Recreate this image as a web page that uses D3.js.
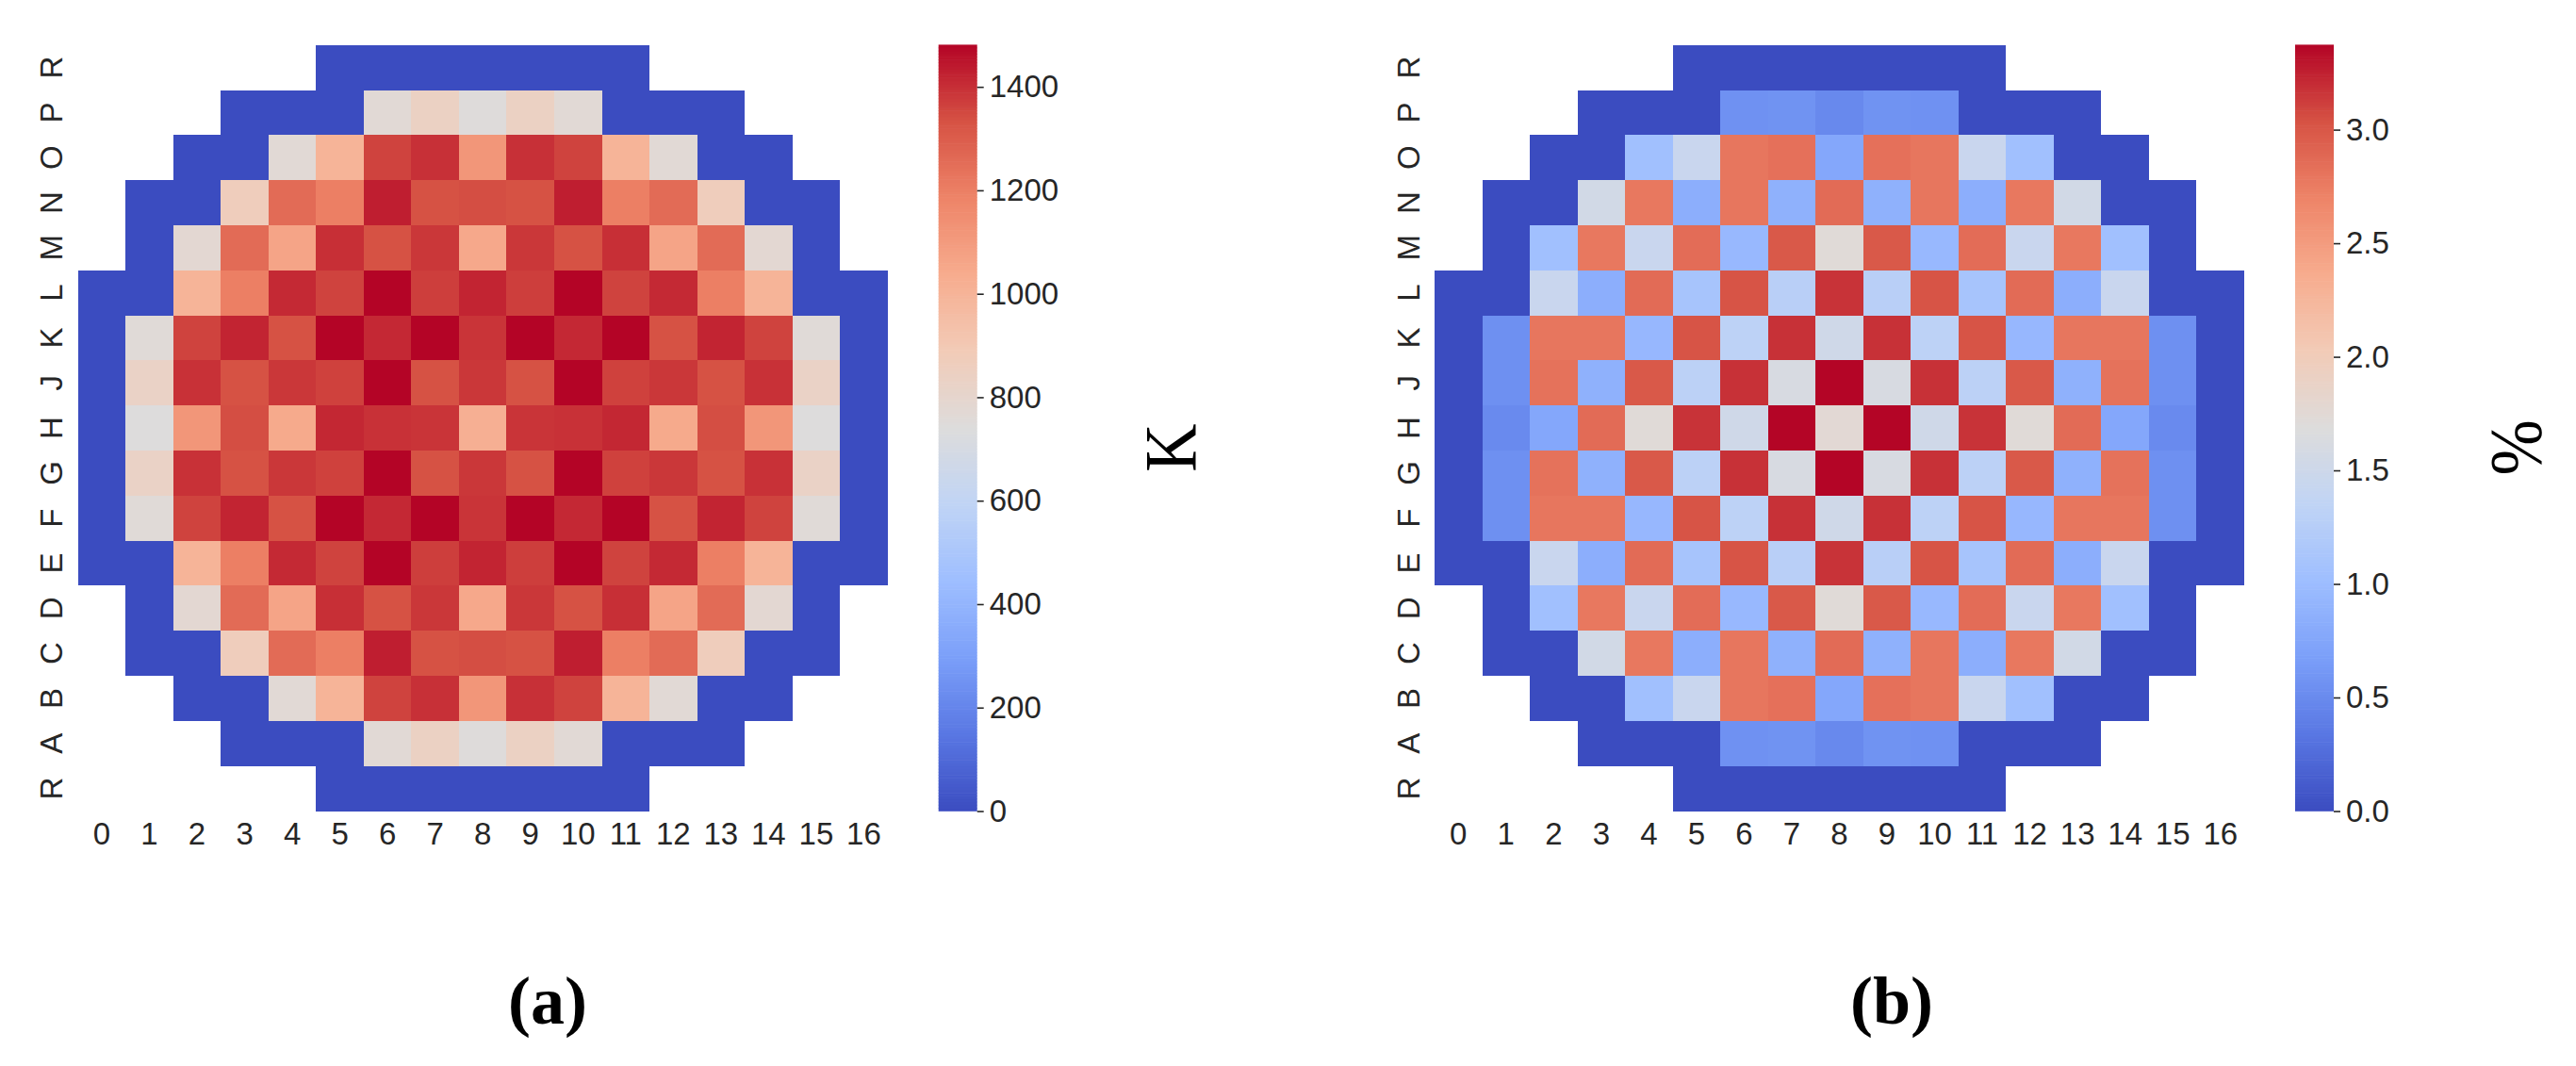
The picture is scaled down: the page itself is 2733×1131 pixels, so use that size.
<!DOCTYPE html>
<html><head><meta charset="utf-8">
<script src="https://cdnjs.cloudflare.com/ajax/libs/d3/7.8.5/d3.min.js"></script>
<style>html,body{margin:0;padding:0;background:#fff}svg{display:block}</style></head>
<body><svg id="c" width="2733" height="1131"></svg>
<script>
const rowLabels=["R","P","O","N","M","L","K","J","H","G","F","E","D","C","B","A","R"];
const colLabels=["0","1","2","3","4","5","6","7","8","9","10","11","12","13","14","15","16"];
const _=null;
const tempGrid=[
[_,_,_,_,_,0,0,0,0,0,0,0,_,_,_,_,_],
[_,_,_,0,0,0,770,840,750,840,770,0,0,0,_,_,_],
[_,_,0,0,770,1000,1362,1398,1120,1398,1362,1000,770,0,0,_,_],
[_,0,0,870,1260,1200,1432,1332,1340,1332,1432,1200,1260,870,0,0,_],
[_,0,780,1260,1065,1400,1332,1385,1050,1385,1332,1400,1065,1260,780,0,_],
[0,0,1000,1200,1410,1362,1481,1370,1420,1370,1481,1362,1410,1200,1000,0,0],
[0,760,1362,1420,1332,1481,1413,1481,1390,1481,1413,1481,1332,1420,1362,760,0],
[0,830,1395,1332,1385,1365,1481,1332,1385,1332,1481,1365,1385,1332,1395,830,0],
[0,740,1120,1340,1045,1415,1395,1390,1020,1390,1395,1415,1045,1340,1120,740,0],
[0,830,1395,1332,1385,1365,1481,1332,1385,1332,1481,1365,1385,1332,1395,830,0],
[0,760,1362,1420,1332,1481,1413,1481,1390,1481,1413,1481,1332,1420,1362,760,0],
[0,0,1000,1200,1410,1362,1481,1370,1420,1370,1481,1362,1410,1200,1000,0,0],
[_,0,780,1260,1065,1400,1332,1385,1050,1385,1332,1400,1065,1260,780,0,_],
[_,0,0,870,1260,1200,1432,1332,1340,1332,1432,1200,1260,870,0,0,_],
[_,_,0,0,770,1000,1362,1398,1120,1398,1362,1000,770,0,0,_,_],
[_,_,_,0,0,0,770,840,750,840,770,0,0,0,_,_,_],
[_,_,_,_,_,0,0,0,0,0,0,0,_,_,_,_,_]];
const pctGrid=[
[_,_,_,_,_,0,0,0,0,0,0,0,_,_,_,_,_],
[_,_,_,0,0,0,.56,.57,.49,.57,.56,0,0,0,_,_,_],
[_,_,0,0,1.04,1.45,2.79,2.83,.76,2.83,2.79,1.45,1.04,0,0,_,_],
[_,0,0,1.55,2.78,.84,2.79,.87,2.87,.87,2.79,.84,2.78,1.55,0,0,_],
[_,0,1.04,2.78,1.45,2.86,.95,2.99,1.73,2.99,.95,2.86,1.45,2.78,1.04,0,_],
[0,0,1.45,.84,2.87,1.1,3.02,1.28,3.17,1.28,3.02,1.1,2.87,.84,1.45,0,0],
[0,.55,2.79,2.79,.94,3.02,1.32,3.18,1.52,3.18,1.32,3.02,.94,2.79,2.79,.55,0],
[0,.55,2.82,.87,2.99,1.31,3.18,1.62,3.37,1.62,3.18,1.31,2.99,.87,2.82,.55,0],
[0,.5,.76,2.87,1.73,3.17,1.52,3.37,1.76,3.37,1.52,3.17,1.73,2.87,.76,.5,0],
[0,.55,2.82,.87,2.99,1.31,3.18,1.62,3.37,1.62,3.18,1.31,2.99,.87,2.82,.55,0],
[0,.55,2.79,2.79,.94,3.02,1.32,3.18,1.52,3.18,1.32,3.02,.94,2.79,2.79,.55,0],
[0,0,1.45,.84,2.87,1.1,3.02,1.28,3.17,1.28,3.02,1.1,2.87,.84,1.45,0,0],
[_,0,1.04,2.78,1.45,2.86,.95,2.99,1.73,2.99,.95,2.86,1.45,2.78,1.04,0,_],
[_,0,0,1.55,2.78,.84,2.79,.87,2.87,.87,2.79,.84,2.78,1.55,0,0,_],
[_,_,0,0,1.04,1.45,2.79,2.83,.76,2.83,2.79,1.45,1.04,0,0,_,_],
[_,_,_,0,0,0,.56,.57,.49,.57,.56,0,0,0,_,_,_],
[_,_,_,_,_,0,0,0,0,0,0,0,_,_,_,_,_]];
const tempTicks=[0,200,400,600,800,1000,1200,1400];
const pctTicks=[0,.5,1,1.5,2,2.5,3];
const coolwarm=["#3b4cc0","#5977e3","#7b9ff9","#9ebeff","#c0d4f5","#dddcdc","#f2cbb7","#f7ac8e","#ee8468","#d65244","#b40426"];

const svg=d3.select("#c");
const INK="#262626";
const TOP=47.7,BOT=860.5;
function panel(o){
  const g=svg.append("g");
  const x=d3.scaleBand().domain(d3.range(17)).range([o.x0,o.x0+859]);
  const y=d3.scaleBand().domain(d3.range(17)).range([TOP,BOT]);
  const ramp=d3.scaleLinear().domain(coolwarm.map((c,i)=>o.max*i/10)).range(coolwarm).interpolate(d3.interpolateRgb);
  o.grid.forEach((row,r)=>row.forEach((v,c)=>{
    if(v===null)return;
    g.append("rect").attr("x",x(c)).attr("y",y(r))
      .attr("width",x.bandwidth()).attr("height",y.bandwidth())
      .attr("fill",ramp(v)).attr("shape-rendering","crispEdges");
  }));
  const ax=g.append("g").attr("transform",`translate(0,${BOT})`)
    .call(d3.axisBottom(x).tickSize(0).tickPadding(12).tickFormat(i=>colLabels[i]));
  ax.select(".domain").remove();
  ax.selectAll("text").attr("font-family","Liberation Sans").attr("font-size",33).attr("fill",INK);
  const ay=g.append("g").attr("transform",`translate(${o.x0-16.5},0)`)
    .call(d3.axisLeft(y).tickSize(0).tickPadding(0).tickFormat(i=>rowLabels[i]));
  ay.select(".domain").remove();
  ay.selectAll("text").attr("font-family","Liberation Sans").attr("font-size",33).attr("fill",INK)
    .attr("transform","rotate(-90)")
    .attr("dy",null).attr("text-anchor","middle").attr("x",0).attr("y",0);
  const cy=d3.scaleLinear().domain([0,o.max]).range([BOT,TOP]);
  const N=256;
  d3.range(N).forEach(i=>{
    const a=o.max*i/N,b=o.max*(i+1)/N;
    g.append("rect").attr("x",o.cb).attr("width",41).attr("y",cy(b)-.3).attr("height",cy(a)-cy(b)+.6).attr("fill",ramp((a+b)/2));
  });
  const cax=g.append("g").attr("transform",`translate(${o.cb+41},0)`)
    .call(d3.axisRight(cy).tickValues(o.ticks).tickSize(7).tickPadding(6).tickFormat(o.fmt));
  cax.select(".domain").remove();
  cax.selectAll("line").attr("stroke",INK).attr("stroke-width",1.6);
  cax.selectAll("text").attr("font-family","Liberation Sans").attr("font-size",33).attr("fill",INK);
  g.append("text").attr("transform",`translate(${o.ux},${o.uy}) rotate(-90) scale(.9,1)`).attr("text-anchor","middle")
    .attr("font-family","Liberation Serif").attr("font-size",79).attr("fill","#000").text(o.unit);
  g.append("text").attr("x",o.px).attr("y",1086).attr("text-anchor","middle")
    .attr("font-family","Liberation Serif").attr("font-weight","bold").attr("font-size",72).attr("fill","#000").text(o.label);
}
panel({x0:82.7,grid:tempGrid,max:1481,ticks:tempTicks,fmt:d3.format("d"),cb:995.7,unit:"K",ux:1268,uy:475,px:581,label:"(a)"});
panel({x0:1522,grid:pctGrid,max:3.373,ticks:pctTicks,fmt:d3.format(".1f"),cb:2435,unit:"%",ux:2695,uy:475,px:2007,label:"(b)"});
</script></body></html>
